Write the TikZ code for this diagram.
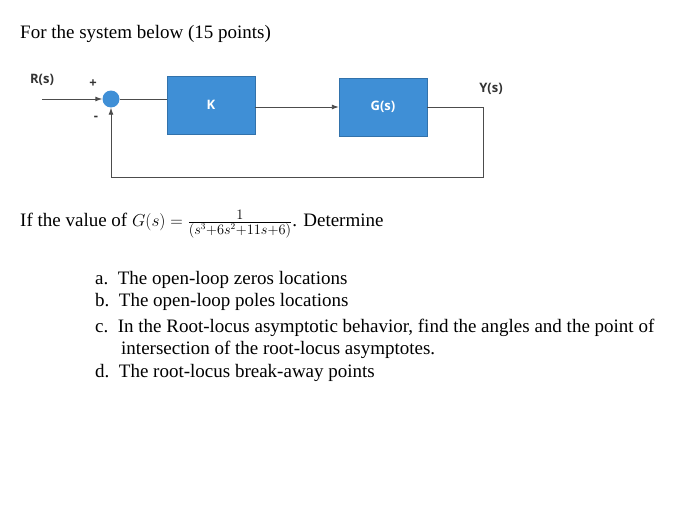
\documentclass[tikz,border=0pt]{standalone}
\usepackage{fontspec}
\setmainfont{Liberation Serif}
\newfontfamily\boxfont{Open Sans}
\usepackage{amsmath}
\usetikzlibrary{arrows.meta}
\definecolor{blockblue}{HTML}{3F8FD6}
\begin{document}
\begin{tikzpicture}[x=1pt,y=-1pt]
\tikzstyle{block}=[draw=blockblue!80!black,fill=blockblue,minimum width=88pt,minimum height=58pt,font=\boxfont\bfseries\fontsize{13}{15}\selectfont,text=white]
\tikzstyle{lbl}=[font=\boxfont\bfseries\fontsize{13}{15}\selectfont,text=black!80]
\tikzstyle{txt}=[anchor=west,inner sep=0pt,font=\fontsize{19}{22}\selectfont]
\tikzstyle{sig}=[draw=black!70,line width=0.9pt]
\useasboundingbox (0,0) rectangle (700,527);
% block diagram
\node [circle,fill=blockblue,minimum size=17pt,inner sep=0pt] (sum) at (111,99) {};
\node [block] (k) at (211,105) {K};
\node [block] (g) at (383,107) {G(s)};
\coordinate (in) at (42,99);
\coordinate (c1) at (483,107);
\coordinate (c2) at (483,177);
\coordinate (c3) at (111,177);
\draw [sig,-{Latex[length=7pt,width=5pt]}] (in) -- (sum);
\draw [sig] (sum) -- (k.west|-sum);
\draw [sig,-{Latex[length=7pt,width=5pt]}] (k.east|-g) -- (g);
\draw [sig] (g) -- (c1) -- (c2) -- (c3);
\draw [sig,-{Latex[length=7pt,width=5pt]}] (c3) -- (sum);
\node [lbl] (r) at (42,80) {R(s)};
\node [lbl] (y) at (491,89) {Y(s)};
\node [lbl] (plus) at (93,84) {+};
\node [lbl] (minus) at (96,118) {-};
% text
\node [txt] (title) at (20,34) {For the system below (15 points)};
\node [txt] (eq) at (20,224) {If the value of $G(s)=\frac{1}{(s^3+6s^2+11s+6)}$. Determine};
\node [txt] (qa) at (95,280) {a.\ \ The open-loop zeros locations};
\node [txt] (qb) at (95,302) {b.\ \ The open-loop poles locations};
\node [txt] (qc) at (95,328) {c.\ \ In the Root-locus asymptotic behavior, find the angles and the point of};
\node [txt] (qc2) at (121,350) {intersection of the root-locus asymptotes.};
\node [txt] (qd) at (95,373) {d.\ \ The root-locus break-away points};
\end{tikzpicture}
\end{document}
